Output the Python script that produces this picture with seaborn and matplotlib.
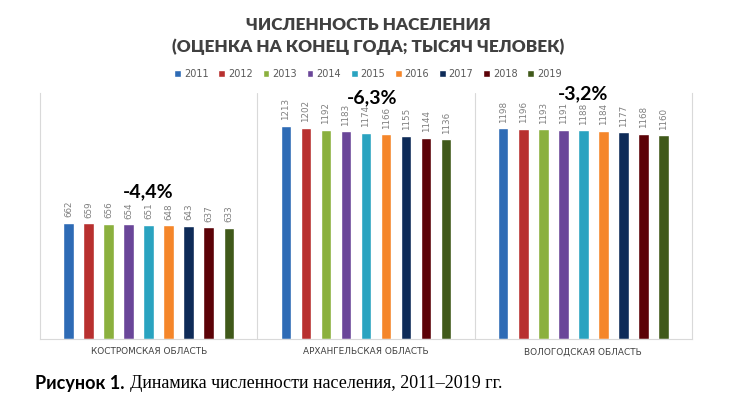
import numpy as np
import pandas as pd
import matplotlib
matplotlib.use("Agg")
import matplotlib.pyplot as plt
import seaborn as sns

regions = ["КОСТРОМСКАЯ ОБЛАСТЬ", "АРХАНГЕЛЬСКАЯ ОБЛАСТЬ", "ВОЛОГОДСКАЯ ОБЛАСТЬ"]
years = ["2011", "2012", "2013", "2014", "2015", "2016", "2017", "2018", "2019"]
kostroma = [662, 659, 656, 654, 651, 648, 643, 637, 633]
arkhangelsk = [1213, 1202, 1192, 1183, 1174, 1166, 1155, 1144, 1136]
vologda = [1198, 1196, 1193, 1191, 1188, 1184, 1177, 1168, 1160]
changes = ["-4,4%", "-6,3%", "-3,2%"]
colors = ["#2E6BB5", "#B8302F", "#8BB03E", "#6A4699", "#2AA3C0",
          "#F5862A", "#0E2B58", "#5C0207", "#40591A"]

rows = []
for reg, vals in zip(regions, [kostroma, arkhangelsk, vologda]):
    for y, v in zip(years, vals):
        rows.append({"region": reg, "year": y, "value": v})
df = pd.DataFrame(rows)

sns.set_theme(style="white")
plt.rcParams["font.family"] = ["DejaVu Sans"]

fig = plt.figure(figsize=(7.37, 3.98), dpi=100)
ax = fig.add_axes([40 / 737, 1 - 339 / 398, 652 / 737, 246 / 398])

sns.barplot(data=df, x="region", y="value", hue="year", palette=colors,
            width=0.83, gap=0.47, ax=ax, legend=True, saturation=1)

ax.set_ylim(0, 1400)
ax.set_xlim(-0.5, 2.5)
ax.set_yticks([])
ax.set_xlabel("")
ax.set_ylabel("")
for s in ["left", "right", "bottom"]:
    ax.spines[s].set_color("#D9D9D9")
    ax.spines[s].set_linewidth(0.8)
ax.spines["top"].set_visible(False)
for xv in [0.5, 1.5]:
    ax.axvline(xv, color="#D9D9D9", lw=0.8)

ax.tick_params(axis="x", length=0, pad=6)
for lab in ax.get_xticklabels():
    lab.set_fontsize(6.4)
    lab.set_color("#404040")

for cont in ax.containers:
    ax.bar_label(cont, rotation=90, fontsize=6.3, color="#7F7F7F", padding=4)

pct_pos = [(0.0, 837), (1.03, 1371), (2.0, 1394)]
for (xx, yy), t in zip(pct_pos, changes):
    ax.text(xx, yy, t, ha="center", va="center", fontsize=14,
            fontweight="bold", family="Lato", color="black", clip_on=False)

leg = ax.get_legend()
handles, labels = ax.get_legend_handles_labels()
leg.remove()
fig.legend(handles, labels, loc="center", bbox_to_anchor=(368 / 737, 1 - 74 / 398),
           ncol=9, frameon=False, fontsize=7, handlelength=0.7, handleheight=0.7,
           handletextpad=0.3, columnspacing=1.0, labelcolor="#595959")

fig.text(368 / 737, 1 - 25 / 398, "ЧИСЛЕННОСТЬ НАСЕЛЕНИЯ", ha="center", va="center",
         fontsize=12.3, fontweight="heavy", family="Lato", color="#404040")
fig.text(368 / 737, 1 - 47 / 398, "(ОЦЕНКА НА КОНЕЦ ГОДА; ТЫСЯЧ ЧЕЛОВЕК)", ha="center",
         va="center", fontsize=12.3, fontweight="heavy", family="Lato", color="#404040")

t1 = fig.text(35 / 737, 1 - 383 / 398, "Рисунок 1.", ha="left", va="center",
              fontsize=13, fontweight="bold", family="Lato", color="black")
fig.canvas.draw()
bb = t1.get_window_extent()
x2 = (bb.x1 + 5) / fig.bbox.width
fig.text(x2, 1 - 383 / 398, "Динамика численности населения, 2011–2019 гг.", ha="left",
         va="center", fontsize=13, family="Liberation Serif", color="black")

fig.savefig("out.png", dpi=100, facecolor="white")
